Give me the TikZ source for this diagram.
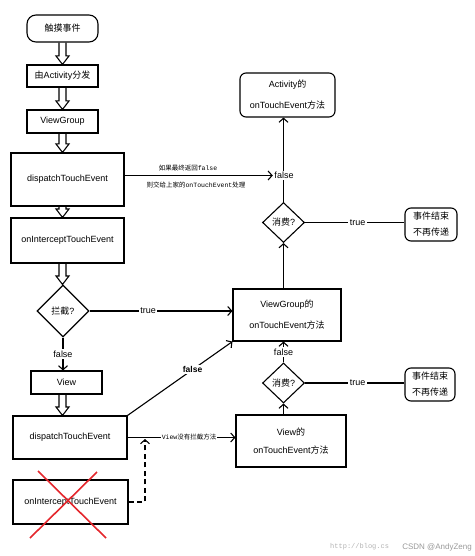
\documentclass[tikz,border=0pt]{standalone}
\usepackage{fontspec}
\setmainfont{Liberation Sans}
\newfontfamily\cjk{Noto Sans CJK SC}
\newfontfamily\monof{Liberation Mono}
\usetikzlibrary{shapes.geometric,arrows.meta,calc}
\definecolor{xred}{RGB}{228,38,44}
\tikzset{
  box/.style={draw, line width=1.1pt, inner sep=0pt, align=center, font=\fontsize{9}{11}\selectfont},
  rbox/.style={box, rounded corners=6pt},
  dia/.style={draw, diamond, line width=1.1pt, inner sep=0pt, font=\fontsize{9}{11}\selectfont},
  hollow/.style={draw, line width=1.1pt, line join=miter},
  plain/.style={line width=1.1pt},
  conn/.style={line width=1.1pt, -{Straight Barb[length=4pt,width=9pt,line width=1.1pt]}},
  lbl/.style={fill=white, inner sep=1.5pt, font=\fontsize{9}{11}\selectfont},
  tiny/.style={inner sep=1pt, font=\fontsize{6.5}{8}\selectfont},
  xline/.style={draw=xred, line width=1.6pt},
}
\newcommand\harrow[2]{\draw[hollow] let \p0=(axis), \p1=(#1.south), \p2=(#2.north) in
  (\x0-3.5pt,\y1) -- (\x0-3.5pt,\y2+8.5pt) -- (\x0-6.5pt,\y2+8.5pt) -- (\x0,\y2)
  -- (\x0+6.5pt,\y2+8.5pt) -- (\x0+3.5pt,\y2+8.5pt) -- (\x0+3.5pt,\y1);}
\begin{document}
\begin{tikzpicture}[x=1pt,y=-1pt]
\useasboundingbox (0,0) rectangle (474,556);
\coordinate (axis) at (62.5,0);
% left column
\node[rbox, rounded corners=9pt, minimum width=71pt, minimum height=27pt] (touch) at (62.5,28.5) {{\cjk 触摸事件}};
\node[box, minimum width=71pt, minimum height=22pt] (act) at (62.5,76) {{\cjk 由}Activity{\cjk 分发}};
\node[box, minimum width=71pt, minimum height=23pt] (vg) at (62.5,121.5) {ViewGroup};
\node[box, minimum width=113pt, minimum height=53pt] (disp) at (67.5,179.5) {dispatchTouchEvent};
\node[box, minimum width=113pt, minimum height=45pt] (oi) at (67.5,240.5) {onInterceptTouchEvent};
\node[dia, minimum width=52pt, minimum height=52pt] (d1) at (63,311) {{\cjk 拦截}?};
\node[box, minimum width=71pt, minimum height=23pt] (view) at (66.5,382.5) {View};
\node[box, minimum width=114pt, minimum height=43pt] (disp2) at (70,437.5) {dispatchTouchEvent};
\node[box, minimum width=115pt, minimum height=44pt] (oi2) at (70.5,502) {onInterceptTouchEvent};
% right column
\node[rbox, minimum width=95pt, minimum height=44pt] (actt) at (287.5,95) {Activity{\cjk 的}\\[10pt]onTouchEvent{\cjk 方法}};
\node[dia, minimum width=42pt, minimum height=40pt] (c1) at (283.5,222.5) {{\cjk 消费}?};
\node[rbox, minimum width=52pt, minimum height=33pt] (end1) at (431,224.5) {{\cjk 事件结束}\\[5pt]{\cjk 不再传递}};
\node[box, minimum width=108pt, minimum height=52pt] (vgt) at (287,315) {ViewGroup{\cjk 的}\\[10pt]onTouchEvent{\cjk 方法}};
\node[dia, minimum width=42pt, minimum height=40pt] (c2) at (283.5,383) {{\cjk 消费}?};
\node[rbox, minimum width=50pt, minimum height=33pt] (end2) at (430,384.5) {{\cjk 事件结束}\\[5pt]{\cjk 不再传递}};
\node[box, minimum width=110pt, minimum height=52pt] (vt) at (291,441) {View{\cjk 的}\\[7pt]onTouchEvent{\cjk 方法}};
% hollow arrows
\harrow{touch}{act}
\harrow{act}{vg}
\harrow{vg}{disp}
\harrow{disp}{oi}
\harrow{oi}{d1}
\harrow{view}{disp2}
% connectors
\draw[conn] (d1.east) -- (d1.east -| vgt.west) node[lbl, pos=0.41] {true};
\draw[conn] (d1.south) -- (d1.south |- view.north) node[lbl, midway] {false};
\draw[conn] (c1.north) -- (c1.north |- actt.south);
\node[lbl] (f2) at (284,175.5) {false};
\draw[conn] (disp.east |- f2.west) -- (f2.west);
\node[tiny] (t1) at (188,168) {{\cjk 如果最终返回}{\monof false}};
\node[tiny] (t2) at (196,185) {{\cjk 则交给上家的}{\monof onTouchEvent}{\cjk 处理}};
\draw[plain] (c1.east) -- (end1.west |- c1.east) node[lbl, pos=0.53] {true};
\draw[conn] (c1.south |- vgt.north) -- (c1.south);
\draw[conn] (c2.north) -- (c2.north |- vgt.south) node[lbl, midway] {false};
\draw[plain] (c2.east) -- (end2.west |- c2.east) node[lbl, pos=0.53] {true};
\draw[conn] (c2.south |- vt.north) -- (c2.south);
\draw[conn] (disp2.north east) -- (vgt.south west) node[lbl, pos=0.62, font=\fontsize{8.5}{10}\selectfont\bfseries] {false};
\draw[conn] (disp2.east) -- (disp2.east -| vt.west) node[tiny, fill=white, pos=0.57] {{\monof View}{\cjk 没有拦截方法}};
\coordinate (dj) at (145,439);
\draw[conn, dash pattern=on 5pt off 3.5pt] (oi2.east) -| (dj);
% red cross
\draw[xline] (38,471) -- (106,538);
\draw[xline] (97,472) -- (30,538);
% watermark
\node[anchor=west, text=black!30, inner sep=0pt, font=\monof\fontsize{7}{8}\selectfont] (wm) at (330,547) {http://blog.cs};
\node[anchor=east, text=black!40, inner sep=0pt, font=\fontsize{8}{9}\selectfont] (wm2) at (472,547) {CSDN @AndyZeng};
\end{tikzpicture}
\end{document}
